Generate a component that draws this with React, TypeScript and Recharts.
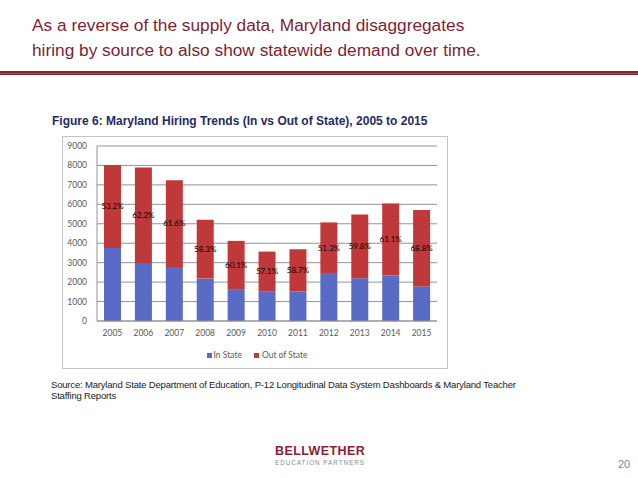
import React from 'react';
import { BarChart, Bar, XAxis, YAxis, CartesianGrid, Legend, LabelList } from 'recharts';

const years = ['2005', '2006', '2007', '2008', '2009', '2010', '2011', '2012', '2013', '2014', '2015'];
const inState = [3750, 2980, 2780, 2180, 1640, 1530, 1520, 2470, 2200, 2350, 1780];
const outOfState = [4270, 4920, 4460, 3030, 2480, 2040, 2170, 2600, 3280, 3690, 3930];
const outPct = [53.2, 62.2, 61.6, 58.3, 60.1, 57.1, 58.7, 51.3, 59.8, 61.1, 68.8];
const yTicks = [0, 1000, 2000, 3000, 4000, 5000, 6000, 7000, 8000, 9000];

const data = years.map((y, i) => ({ year: y, inState: inState[i], outOfState: outOfState[i], pct: outPct[i] }));

const BLUE = '#5A6BC5';
const RED = '#C0393A';
const CHART_FONT = 'Lato, "Noto Sans", sans-serif';
const ARIAL = '"Liberation Sans", Arial, sans-serif';

const LegendContent = () => (
  <div style={{ display: 'flex', justifyContent: 'center', alignItems: 'center', height: 28, paddingLeft: 15, fontFamily: CHART_FONT, fontSize: 8.5, color: '#595959' }}>
    <div style={{ display: 'flex', alignItems: 'center', marginRight: 12 }}>
      <span style={{ display: 'inline-block', width: 5, height: 5, background: BLUE, marginRight: 2 }} />
      <span>In State</span>
    </div>
    <div style={{ display: 'flex', alignItems: 'center' }}>
      <span style={{ display: 'inline-block', width: 5, height: 5, background: RED, marginRight: 3 }} />
      <span>Out of State</span>
    </div>
  </div>
);

export default function App() {
  return (
    <div style={{ position: 'absolute', left: 0, top: 0, width: 638, height: 478, background: '#fff', overflow: 'hidden' }}>
      <div style={{ position: 'absolute', left: 32, top: 13, fontFamily: ARIAL, fontSize: 17.3, lineHeight: '25px', color: '#7E1F32', whiteSpace: 'nowrap' }}>
        As a reverse of the supply data, Maryland disaggregates<br />
        hiring by source to also show statewide demand over time.
      </div>
      <div style={{ position: 'absolute', left: 0, top: 71, width: 638, height: 4, background: '#8A2537' }} />
      <div style={{ position: 'absolute', left: 0, top: 72.5, width: 638, height: 1, background: '#A54A5A' }} />

      <div style={{ position: 'absolute', left: 52, top: 114, fontFamily: ARIAL, fontSize: 12, fontWeight: 'bold', color: '#1F2B66', whiteSpace: 'nowrap' }}>
        Figure 6: Maryland Hiring Trends (In vs Out of State), 2005 to 2015
      </div>

      <div style={{ position: 'absolute', left: 62, top: 136, width: 386, height: 233, border: '1px solid #c4c4c4', boxSizing: 'border-box' }}>
        <BarChart
          width={386}
          height={233}
          data={data}
          margin={{ top: 10, right: 11, bottom: 0, left: 0 }}
          barSize={17}
          style={{ position: 'absolute', left: -1, top: -1 }}
        >
          <CartesianGrid vertical={false} stroke="#939393" strokeWidth={1} />
          <XAxis
            dataKey="year"
            tickLine={false}
            axisLine={{ stroke: '#939393' }}
            tick={{ fontFamily: CHART_FONT, fontSize: 8.5, fill: '#595959' }}
            tickMargin={3}
            height={20}
            interval={0}
          />
          <YAxis
            width={35}
            domain={[0, 9000]}
            ticks={yTicks}
            tickLine={false}
            axisLine={{ stroke: '#939393' }}
            tick={{ fontFamily: CHART_FONT, fontSize: 8.5, fill: '#595959' }}
            tickMargin={4}
            interval={0}
          />
          <Legend verticalAlign="bottom" height={28} content={<LegendContent />} />
          <Bar dataKey="inState" name="In State" stackId="a" fill={BLUE} isAnimationActive={false} />
          <Bar dataKey="outOfState" name="Out of State" stackId="a" fill={RED} isAnimationActive={false}>
            <LabelList
              dataKey="pct"
              position="center"
              formatter={(v: number) => `${v.toFixed(1)}%`}
              style={{ fontFamily: CHART_FONT, fontSize: 8, fill: '#000' }}
            />
          </Bar>
        </BarChart>
      </div>

      <div style={{ position: 'absolute', left: 51, top: 379, fontFamily: ARIAL, fontSize: 9.5, lineHeight: '11px', letterSpacing: -0.18, color: '#222', whiteSpace: 'nowrap' }}>
        Source: Maryland State Department of Education, P-12 Longitudinal Data System Dashboards &amp; Maryland Teacher<br />
        Staffing Reports
      </div>

      <div style={{ position: 'absolute', left: 275, top: 445, fontFamily: ARIAL, fontSize: 12.5, fontWeight: 'bold', color: '#8A1E36', letterSpacing: 0.4, lineHeight: '13px', whiteSpace: 'nowrap' }}>
        BELLWETHER
      </div>
      <div style={{ position: 'absolute', left: 275, top: 459, fontFamily: ARIAL, fontSize: 6.3, color: '#8a8a8a', letterSpacing: 1, lineHeight: '7px', whiteSpace: 'nowrap' }}>
        EDUCATION PARTNERS
      </div>
      <div style={{ position: 'absolute', left: 618, top: 458, fontFamily: ARIAL, fontSize: 11, color: '#888', whiteSpace: 'nowrap' }}>
        20
      </div>
    </div>
  );
}
